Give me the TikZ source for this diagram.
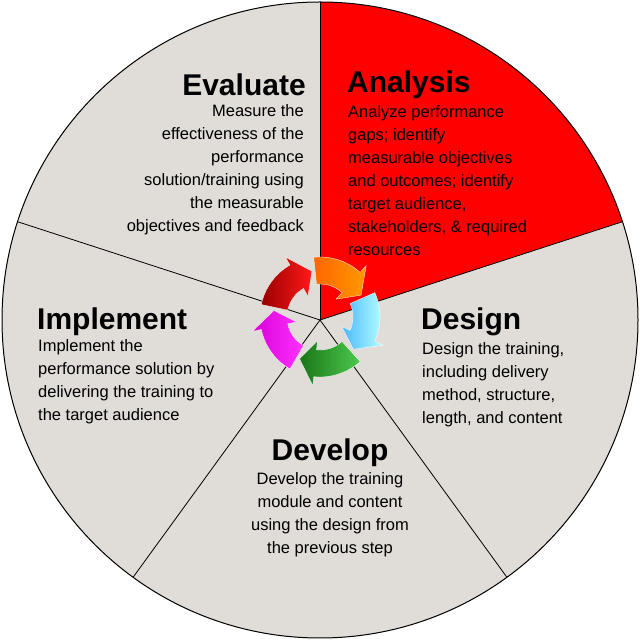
\documentclass[tikz,border=0pt]{standalone}
\usepackage{fontspec}
\setmainfont{Liberation Sans}
\begin{document}
\begin{tikzpicture}[x=1pt,y=1pt,
  ttl/.style={font=\bfseries\fontsize{30}{34}\selectfont, inner sep=0pt},
  bdy/.style={font=\fontsize{16.5}{23}\selectfont, inner sep=0pt},
  sect/.style={draw=black, line width=0.8pt}]
\useasboundingbox (0,0) rectangle (640,640);
\fill[white] (0,0) rectangle (640,640);
\coordinate (c) at (320,320);
\fill[fill={rgb,255:red,224;green,220;blue,216}] (c) circle (318);
\fill[red] (c) -- ++(90:318) arc (90:18:318) -- cycle;
\foreach \a in {90,18,-54,-126,162} \draw[sect] (c) -- ++(\a:318);
\draw[line width=1pt] (c) circle (318);
% titles
\node[ttl] (tev) at (244,555) {Evaluate};
\node[ttl, anchor=west] (tan) at (347,555) {Analysis};
\node[ttl, anchor=west] (tde) at (421,318) {Design};
\node[ttl, anchor=west] (tim) at (37,318) {Implement};
\node[ttl] (tdv) at (330,187) {Develop};
% bodies
\node[bdy, anchor=north east, align=right] (bev) at (304,536) {Measure the\\effectiveness of the\\performance\\solution/training using\\the measurable\\objectives and feedback};
\node[bdy, anchor=north west, align=left] (ban) at (348,535) {Analyze performance\\gaps; identify\\measurable objectives\\and outcomes; identify\\target audience,\\stakeholders, \& required\\resources};
\node[bdy, anchor=north west, align=left] (bde) at (422,298) {Design the training,\\including delivery\\method, structure,\\length, and content};
\node[bdy, anchor=north west, align=left] (bim) at (38,301) {Implement the\\performance solution by\\delivering the training to\\the target audience};
\node[bdy, anchor=north, align=center] (bdv) at (330,168) {Develop the training\\module and content\\using the design from\\the previous step};
% cycle arrows
\def\ri{33}\def\ro{60}\def\hi{24}\def\ho{69}\def\rm{46.5}
\newcommand{\cycarrow}[3]{% tip angle, color1, color2
  \pgfmathsetmacro{\st}{#1+68}\pgfmathsetmacro{\hb}{#1+20}
  \shade[left color=#2, right color=#3, draw=white, line width=0.3pt]
    ([shift={(c)}]\st:\ro) arc (\st:\hb:\ro) -- ([shift={(c)}]\hb:\ho)
    -- ([shift={(c)}]#1:\rm) -- ([shift={(c)}]\hb:\hi) -- ([shift={(c)}]\hb:\ri)
    arc (\hb:\st:\ri) -- cycle;}
\coordinate (c) at (320,323);
\cycarrow{172}{magenta!70!violet}{magenta!80}
\cycarrow{-116}{green!40!black!90}{green!70!black!70}
\cycarrow{-44}{cyan!60!blue!70}{cyan!30}
\cycarrow{28}{orange!80!red}{orange!80!yellow}
\cycarrow{100}{red!60!black}{red!90}
\end{tikzpicture}
\end{document}
